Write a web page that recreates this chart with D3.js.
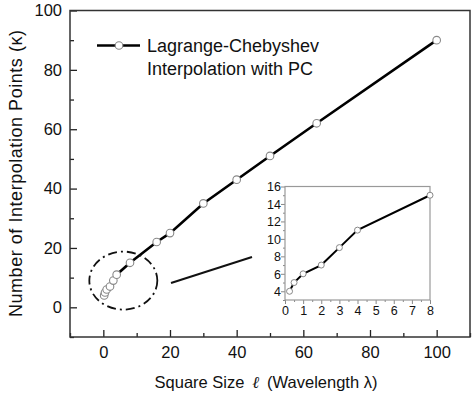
<!DOCTYPE html>
<html><head><meta charset="utf-8">
<script src="https://cdn.jsdelivr.net/npm/d3@7"></script>
<style>body{margin:0;background:#fff}svg{display:block}text{font-family:Arial,"Liberation Sans",sans-serif;fill:#111}</style>
</head><body><svg id="c" width="474" height="395"></svg>
<script>
const sizeX = [0.25,0.5,1,2,3,4,8,16,20,30,40,50,64,100];
const points = [4,5,6,7,9,11,15,22,25,35,43,51,62,90];
const insetX = [0.25,0.5,1,2,3,4,8];
const insetY = [4,5,6,7,9,11,15];
const mainXTicks = [0,20,40,60,80,100];
const mainYTicks = [0,20,40,60,80,100];
const insetXTicks = [0,1,2,3,4,5,6,7,8];
const insetYTicks = [4,6,8,10,12,14,16];
const legendLines = ["Lagrange-Chebyshev","Interpolation with PC"];

const svg = d3.select("#c");
const x = d3.scaleLinear().domain([-10,110]).range([70,470]);
const y = d3.scaleLinear().domain([-10,100]).range([337,10.5]);

// main axes (inward ticks)
const gx = svg.append("g").attr("transform","translate(0,337)")
  .call(d3.axisBottom(x).tickValues(d3.range(-10,111,10)).tickSize(-6).tickFormat(d=>mainXTicks.includes(d)?d:""));
gx.selectAll(".tick line").attr("y2", d=>mainXTicks.includes(d)?-7:-4);
const gy = svg.append("g").attr("transform","translate(70,0)")
  .call(d3.axisLeft(y).tickValues(d3.range(-10,101,10)).tickSize(-6).tickFormat(d=>mainYTicks.includes(d)?d:""));
gy.selectAll(".tick line").attr("x2", d=>mainYTicks.includes(d)?7:4);
[gx,gy].forEach(g=>{g.select(".domain").remove();g.selectAll(".tick line").attr("stroke","#222").attr("stroke-width",1.3);
  g.selectAll("text").style("font-size","16.5px").attr("fill","#111");});
gx.selectAll("text").attr("dy","0").attr("y",21);
gy.selectAll("text").attr("x",-8);
svg.append("rect").attr("x",70).attr("y",10.5).attr("width",400).attr("height",326.5)
  .attr("fill","none").attr("stroke","#333").attr("stroke-width",1.5);

// axis titles
svg.append("text").attr("x",266).attr("y",388).attr("text-anchor","middle").style("font-size","16.5px")
  .html('Square Size\u2009 <tspan font-family="DejaVu Serif" font-style="italic">\u2113</tspan>\u2009 (Wavelength \u03bb)');
svg.append("text").attr("transform","translate(22,173.5) rotate(-90)").attr("text-anchor","middle").style("font-size","18px")
  .attr("textLength",287).attr("lengthAdjust","spacing")
  .text("Number of Interpolation Points (\u03ba)");

// main line
const data = sizeX.map((d,i)=>[d,points[i]]);
svg.append("path").datum(data).attr("fill","none").attr("stroke","#000").attr("stroke-width",2.6)
  .attr("d", d3.line().x(d=>x(d[0])).y(d=>y(d[1])));
svg.selectAll(".pm").data(data).join("circle").attr("cx",d=>x(d[0])).attr("cy",d=>y(d[1])).attr("r",3.8)
  .attr("fill","#fff").attr("stroke","#888").attr("stroke-width",1.1);

// ellipse
svg.append("ellipse").attr("cx",x(6)).attr("cy",y(9)).attr("rx",34).attr("ry",29)
  .attr("fill","none").attr("stroke","#111").attr("stroke-width",1.8).attr("stroke-dasharray","9,4,2,4");
svg.append("line").attr("x1",171).attr("y1",283).attr("x2",252).attr("y2",257).attr("stroke","#111").attr("stroke-width",2);

// legend
svg.append("line").attr("x1",97).attr("x2",140).attr("y1",45.5).attr("y2",45.5).attr("stroke","#000").attr("stroke-width",2.6);
svg.append("circle").attr("cx",119).attr("cy",45.5).attr("r",3.8).attr("fill","#fff").attr("stroke","#888").attr("stroke-width",1.1);
legendLines.forEach((t,i)=>svg.append("text").attr("x",147).attr("y",52+i*23).style("font-size","18px").text(t));

// inset
const ix = d3.scaleLinear().domain([0,8]).range([285,430]);
const iy = d3.scaleLinear().domain([3,16]).range([300,186.5]);
const igx = svg.append("g").attr("transform","translate(0,300)")
  .call(d3.axisBottom(ix).tickValues(d3.range(0,8.01,0.5)).tickSize(3).tickFormat(d=>insetXTicks.includes(d)?d:""));
igx.selectAll(".tick line").attr("y2",d=>Number.isInteger(d)?4:2);
const igy = svg.append("g").attr("transform","translate(285,0)")
  .call(d3.axisLeft(iy).tickValues(d3.range(3,16.01,1)).tickSize(3).tickFormat(d=>insetYTicks.includes(d)?d:""));
igy.selectAll(".tick line").attr("x2",d=>insetYTicks.includes(d)?-4:-2);
[igx,igy].forEach(g=>{g.select(".domain").remove();g.selectAll(".tick line").attr("stroke","#888");
  g.selectAll("text").style("font-size","12.5px").attr("fill","#111");});
igx.selectAll("text").attr("dy","0").attr("y",15);
igy.selectAll("text").attr("x",-4).attr("dy","0.35em");
svg.append("rect").attr("x",285).attr("y",186.5).attr("width",145).attr("height",113.5)
  .attr("fill","none").attr("stroke","#999").attr("stroke-width",1.2);
const idata = insetX.map((d,i)=>[d,insetY[i]]);
svg.append("path").datum(idata).attr("fill","none").attr("stroke","#000").attr("stroke-width",2)
  .attr("d", d3.line().x(d=>ix(d[0])).y(d=>iy(d[1])));
svg.selectAll(".pi").data(idata).join("circle").attr("cx",d=>ix(d[0])).attr("cy",d=>iy(d[1])).attr("r",3)
  .attr("fill","#fff").attr("stroke","#888").attr("stroke-width",1);
</script></body></html>
